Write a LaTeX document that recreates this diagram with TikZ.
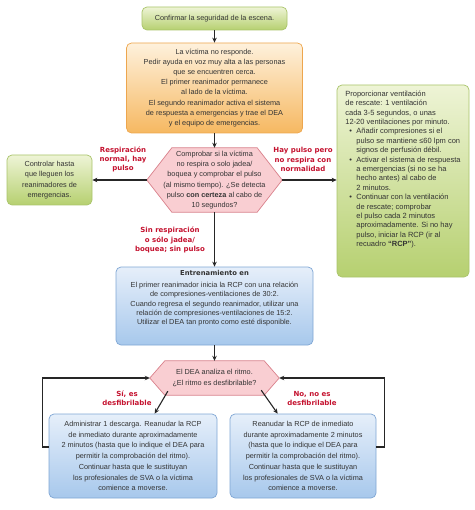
\documentclass[tikz,border=0pt]{standalone}
\usepackage{fontspec}
\setmainfont{Liberation Sans}
\newfontfamily\lblfont{DejaVu Sans}
\usetikzlibrary{arrows.meta,backgrounds,calc}
\definecolor{grnTop}{HTML}{EEF4D6}
\definecolor{grnBot}{HTML}{B6D070}
\definecolor{grnEdge}{HTML}{A9C46A}
\definecolor{orTop}{HTML}{FEF1DC}
\definecolor{orBot}{HTML}{F6B861}
\definecolor{orEdge}{HTML}{EDA64E}
\definecolor{blTop}{HTML}{E6EFFA}
\definecolor{blBot}{HTML}{A7C8EC}
\definecolor{blEdge}{HTML}{7FA6D4}
\definecolor{pkFill}{HTML}{F9CED2}
\definecolor{pkEdge}{HTML}{D9808B}
\definecolor{lblRed}{HTML}{C4122F}
\definecolor{txt}{HTML}{333333}
\tikzset{
  box/.style={rounded corners=5pt, line width=0.7pt, align=center, text=txt, inner sep=0pt,
    font=\fontsize{7.3}{10.1}\selectfont},
  greenbox/.style={box, top color=grnTop, bottom color=grnBot, draw=grnEdge},
  orangebox/.style={box, top color=orTop, bottom color=orBot, draw=orEdge},
  bluebox/.style={box, top color=blTop, bottom color=blBot, draw=blEdge},
  pinkshape/.style={fill=pkFill, draw=pkEdge, line width=0.7pt},
  plaintext/.style={text=txt, inner sep=0pt, font=\fontsize{7.3}{10.1}\selectfont},
  lbl/.style={text=lblRed, align=center, inner sep=0pt, font=\lblfont\bfseries\fontsize{7}{9.2}\selectfont},
  arr/.style={-{Stealth[length=5pt,width=4.5pt]}, line width=1.1pt, draw=black!85},
}
\begin{document}
\begin{tikzpicture}[x=1pt,y=1pt]
\useasboundingbox (0,0) rectangle (474,-510);

% top
\node[greenbox, minimum width=145pt, minimum height=23pt] (safe) at (214.5,-18.5)
  {Confirmar la seguridad de la escena.};

\node[orangebox, minimum width=176pt, minimum height=90pt] (noresp) at (214.5,-88)
  {La víctima no responde.\\
   Pedir ayuda en voz muy alta a las personas\\
   que se encuentren cerca.\\
   El primer reanimador permanece\\
   al lado de la víctima.\\
   El segundo reanimador activa el sistema\\
   de respuesta a emergencias y trae el DEA\\
   y el equipo de emergencias.};

% hexagon
\node[plaintext, align=center, minimum width=135pt, minimum height=64pt,
      font=\fontsize{7.3}{10.3}\selectfont] (check) at (214.5,-180)
  {Comprobar si la víctima\\
   no respira o solo jadea/\\
   boquea y comprobar el pulso\\
   (al mismo tiempo). ¿Se detecta\\
   pulso \textbf{con certeza} al cabo de\\
   10 segundos?};
\begin{scope}[on background layer]
\draw[pinkshape] (check.west) -- ($(check.north west)+(25,0)$) -- ($(check.north east)+(-25,0)$)
  -- (check.east) -- ($(check.south east)+(-25,0)$) -- ($(check.south west)+(25,0)$) -- cycle;
\end{scope}

\node[greenbox, minimum width=85pt, minimum height=50pt, font=\fontsize{7.3}{10.3}\selectfont]
  (monitor) at (49.5,-180)
  {Controlar hasta\\ que lleguen los\\ reanimadores de\\ emergencias.};

\node[greenbox, minimum width=132pt, minimum height=192pt] (vent) at (403,-181) {};
\node[plaintext, align=left, anchor=north, font=\fontsize{7.5}{9.4}\selectfont] (venttext)
  at ($(vent.north)+(0,-6)$)
  {Proporcionar ventilación\\
   de rescate: 1 ventilación\\
   cada 3-5 segundos, o unas\\
   12-20 ventilaciones por minuto.\\
   \hspace*{4pt}\makebox[7pt][l]{\textbullet}Añadir compresiones si el\\
   \hspace*{11pt}pulso se mantiene ≤60 lpm con\\
   \hspace*{11pt}signos de perfusión débil.\\
   \hspace*{4pt}\makebox[7pt][l]{\textbullet}Activar el sistema de respuesta\\
   \hspace*{11pt}a emergencias (si no se ha\\
   \hspace*{11pt}hecho antes) al cabo de\\
   \hspace*{11pt}2 minutos.\\
   \hspace*{4pt}\makebox[7pt][l]{\textbullet}Continuar con la ventilación\\
   \hspace*{11pt}de rescate; comprobar\\
   \hspace*{11pt}el pulso cada 2 minutos\\
   \hspace*{11pt}aproximadamente. Si no hay\\
   \hspace*{11pt}pulso, iniciar la RCP (ir al\\
   \hspace*{11pt}recuadro \textbf{“RCP”}).};

% CPR box
\node[bluebox, minimum width=197pt, minimum height=78pt] (cpr) at (214.5,-306) {};
\node[plaintext, align=center, anchor=north, font=\fontsize{7.3}{9.2}\selectfont] (cprtext)
  at ($(cpr.north)+(0,-3.5)$)
  {{\lblfont\bfseries\fontsize{6.8}{9}\selectfont Entrenamiento en}\\[3pt]
   El primer reanimador inicia la RCP con una relación\\
   de compresiones-ventilaciones de 30:2.\\
   Cuando regresa el segundo reanimador, utilizar una\\
   relación de compresiones-ventilaciones de 15:2.\\
   Utilizar el DEA tan pronto como esté disponible.};

% AED analysis
\node[plaintext, align=center, minimum width=129pt, minimum height=34pt] (aed) at (214.5,-378)
  {El DEA analiza el ritmo.\\ ¿El ritmo es desfibrilable?};
\begin{scope}[on background layer]
\draw[pinkshape] (aed.west) -- ($(aed.north west)+(15,0)$) -- ($(aed.north east)+(-15,0)$)
  -- (aed.east) -- ($(aed.south east)+(-15,0)$) -- ($(aed.south west)+(15,0)$) -- cycle;
\end{scope}

\node[bluebox, minimum width=168pt, minimum height=84pt, font=\fontsize{7.3}{10.7}\selectfont]
  (shock) at (133,-456)
  {Administrar 1 descarga. Reanudar la RCP\\
   de inmediato durante aproximadamente\\
   2 minutos (hasta que lo indique el DEA para\\
   permitir la comprobación del ritmo).\\
   Continuar hasta que le sustituyan\\
   los profesionales de SVA o la víctima\\
   comience a moverse.};

\node[bluebox, minimum width=146pt, minimum height=84pt, font=\fontsize{7.3}{10.7}\selectfont]
  (noshock) at (303,-456)
  {Reanudar la RCP de inmediato\\
   durante aproximadamente 2 minutos\\
   (hasta que lo indique el DEA para\\
   permitir la comprobación del ritmo).\\
   Continuar hasta que le sustituyan\\
   los profesionales de SVA o la víctima\\
   comience a moverse.};

% connectors
\draw[arr] (safe.south) -- (noresp.north);
\draw[arr] (noresp.south) -- (check.north);
\draw[arr] (check.west) -- (monitor.east);
\draw[arr] (check.east) -- (vent.west |- check.east);
\draw[arr] (check.south) -- (cpr.north);
\draw[arr] (cpr.south) -- (aed.north);
\draw[arr] ($(aed.south west)+(18,4)$) -- ($(shock.north west)+(106,0)$);
\draw[arr] ($(aed.south east)+(-18,5)$) -- ($(noshock.north west)+(48,0)$);
\draw[arr] ($(shock.west)+(0,9)$) -- ++(-6,0) |- (aed.west);
\draw[arr] ($(noshock.east)+(0,9)$) -- ++(8,0) |- (aed.east);

% labels
\node[lbl] (l1) at (123,-159.5) {Respiración\\normal, hay\\pulso};
\node[lbl] (l2) at (303,-159.5) {Hay pulso pero\\no respira con\\normalidad};
\node[lbl] (l3) at (170,-240) {Sin respiración\\o sólo jadea/\\boquea; sin pulso};
\node[lbl] (l4) at (127,-398.5) {Sí, es\\desfibrilable};
\node[lbl] (l5) at (312,-398.5) {No, no es\\desfibrilable};
\end{tikzpicture}
\end{document}
